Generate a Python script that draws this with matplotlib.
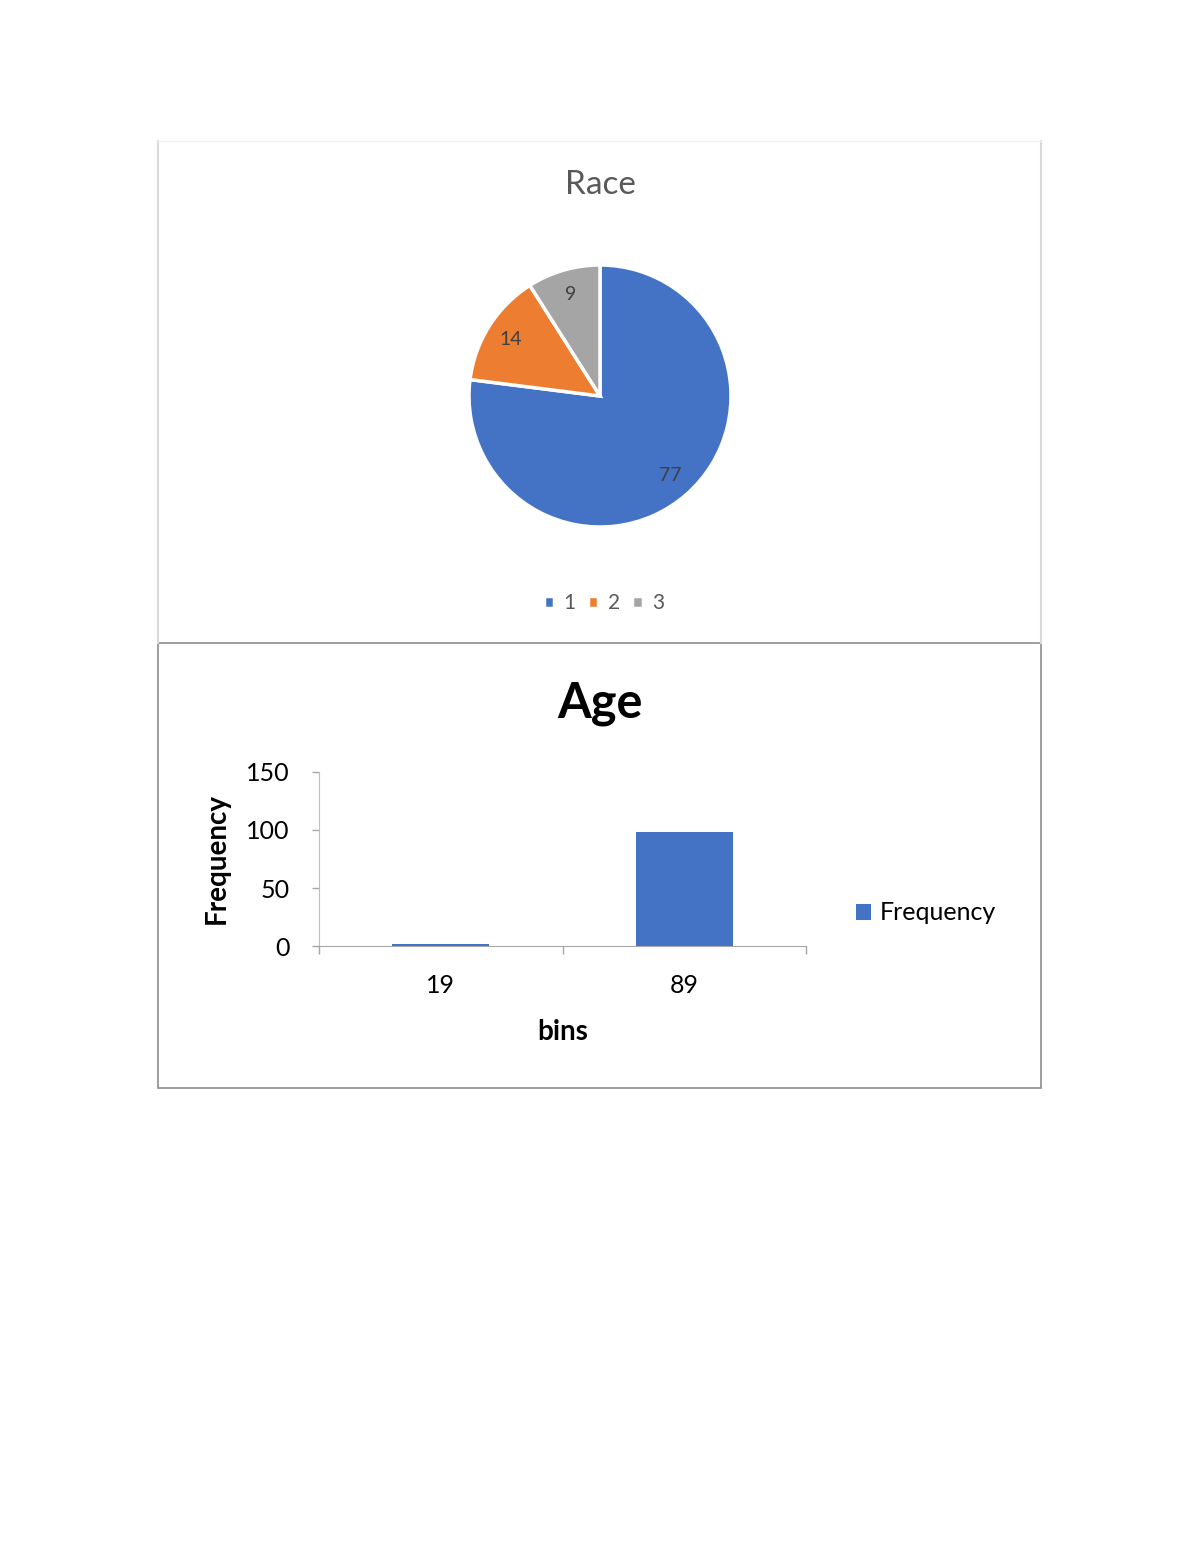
import matplotlib
matplotlib.use("Agg")
import matplotlib.pyplot as plt
from matplotlib.patches import Rectangle
from matplotlib.lines import Line2D

plt.rcParams['font.family'] = ['Lato', 'DejaVu Sans']

# ---- data ----
race_labels = ["1", "2", "3"]
race_values = [77, 14, 9]
race_colors = ["#4472C4", "#ED7D31", "#A5A5A5"]

age_bins = ["19", "89"]
age_freq = [2, 98]
age_yticks = [0, 50, 100, 150]

W, H = 1200, 1553
fig = plt.figure(figsize=(W / 100, H / 100), dpi=100)

def fx(x):
    return x / W

def fy(y):
    return 1 - y / H

# ---- panel borders ----
light = "#D9D9D9"
fig.add_artist(Line2D([fx(158), fx(158)], [fy(141), fy(643)], color=light, lw=1.5))
fig.add_artist(Line2D([fx(1041), fx(1041)], [fy(141), fy(643)], color=light, lw=1.5))
fig.add_artist(Line2D([fx(158), fx(1041)], [fy(141), fy(141)], color="#F2F2F2", lw=1))
fig.add_artist(Rectangle((fx(158), fy(1088)), fx(1041) - fx(158), fy(643) - fy(1088),
                         fill=False, edgecolor="#8C8C8C", lw=1.2))

# ---- pie chart ----
cx, cy, r = 600, 396, 131
axp = fig.add_axes([fx(cx - r), fy(cy + r), (2 * r) / W, (2 * r) / H])
total = sum(race_values)
wedges, _, autotexts = axp.pie(
    race_values, colors=race_colors, startangle=90, counterclock=False,
    wedgeprops=dict(edgecolor="white", linewidth=2.5),
    autopct=lambda p: f"{p * total / 100:.0f}", pctdistance=0.81,
    textprops=dict(color="#404040", fontsize=14))
axp.set_xlim(-1.0, 1.0)
axp.set_ylim(-1.0, 1.0)
fig.text(fx(600), fy(185), "Race", ha="center", va="center", fontsize=24, color="#595959")
fig.legend(wedges, race_labels, loc="center", bbox_to_anchor=(fx(604), fy(603)),
           ncol=3, frameon=False, fontsize=15, handlelength=0.5, handleheight=0.5,
           handletextpad=0.45, columnspacing=0.6, labelcolor="#595959")

# ---- bar chart ----
x0, x1, y0, y1 = 319, 806, 946, 772
axb = fig.add_axes([fx(x0), fy(y0), (x1 - x0) / W, (y0 - y1) / H])
pos = list(range(len(age_bins)))
bars = axb.bar(pos, age_freq, width=0.4, color="#4472C4", label="Frequency")
axb.set_xlim(-0.5, len(age_bins) - 0.5)
axb.set_ylim(0, 150)
axb.set_yticks(age_yticks)
axb.set_yticklabels([str(v) for v in age_yticks], fontsize=18)
axb.set_xticks([p - 0.5 for p in pos] + [len(age_bins) - 0.5])
axb.set_xticklabels([])
axb.set_xticks(pos, minor=True)
axb.set_xticklabels(age_bins, minor=True, fontsize=18)
axb.tick_params(axis="x", which="major", length=6, color="#A6A6A6", width=1)
axb.tick_params(axis="x", which="minor", length=0, pad=20)
axb.tick_params(axis="y", length=5, color="#A6A6A6", width=1, pad=16)
for s in ["top", "right"]:
    axb.spines[s].set_visible(False)
axb.spines["left"].set_color("#BFBFBF")
axb.spines["bottom"].set_color("#A6A6A6")
axb.patch.set_alpha(0)

fig.text(fx(600), fy(703), "Age", ha="center", va="center", fontsize=35, fontweight="bold")
fig.text(fx(217), fy(859), "Frequency", ha="center", va="center", rotation=90,
         fontsize=20, fontweight="bold")
fig.text(fx(563), fy(1032), "bins", ha="center", va="center", fontsize=20, fontweight="bold")
fig.legend(handles=[bars], labels=["Frequency"], loc="center left",
           bbox_to_anchor=(fx(834), fy(913)), frameon=False, fontsize=18,
           handlelength=0.6, handleheight=0.6, handletextpad=0.35)

fig.savefig("out.png", dpi=100, facecolor="white")
